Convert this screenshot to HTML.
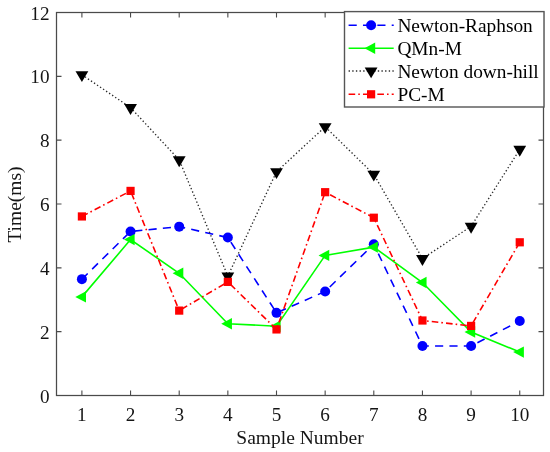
<!DOCTYPE html><html><head><meta charset="utf-8"><style>
html,body{margin:0;padding:0;background:#fff;width:550px;height:452px;overflow:hidden}
svg{display:block}
text{font-family:"Liberation Serif", "Times New Roman", serif;font-size:19.2px;fill:#151515}
</style></head><body>
<svg width="550" height="452" viewBox="0 0 550 452">
<rect width="550" height="452" fill="#fff"/>
<path d="M81.90 395.5V390.5M81.90 12.5V17.5M130.55 395.5V390.5M130.55 12.5V17.5M179.20 395.5V390.5M179.20 12.5V17.5M227.85 395.5V390.5M227.85 12.5V17.5M276.50 395.5V390.5M276.50 12.5V17.5M325.15 395.5V390.5M325.15 12.5V17.5M373.80 395.5V390.5M373.80 12.5V17.5M422.45 395.5V390.5M422.45 12.5V17.5M471.10 395.5V390.5M471.10 12.5V17.5M519.75 395.5V390.5M519.75 12.5V17.5M56.5 395.50H61.5M543.5 395.50H538.5M56.5 331.67H61.5M543.5 331.67H538.5M56.5 267.83H61.5M543.5 267.83H538.5M56.5 204.00H61.5M543.5 204.00H538.5M56.5 140.17H61.5M543.5 140.17H538.5M56.5 76.33H61.5M543.5 76.33H538.5M56.5 12.50H61.5M543.5 12.50H538.5" stroke="#4a4a4a" stroke-width="1.1" fill="none"/>
<rect x="56.5" y="12.5" width="487.0" height="383.0" stroke="#4a4a4a" stroke-width="1.25" fill="none"/>
<text x="49.5" y="402.50" text-anchor="end">0</text>
<text x="49.5" y="338.67" text-anchor="end">2</text>
<text x="49.5" y="274.83" text-anchor="end">4</text>
<text x="49.5" y="211.00" text-anchor="end">6</text>
<text x="49.5" y="147.17" text-anchor="end">8</text>
<text x="49.5" y="83.33" text-anchor="end">10</text>
<text x="49.5" y="19.50" text-anchor="end">12</text>
<text x="81.90" y="420.8" text-anchor="middle">1</text>
<text x="130.55" y="420.8" text-anchor="middle">2</text>
<text x="179.20" y="420.8" text-anchor="middle">3</text>
<text x="227.85" y="420.8" text-anchor="middle">4</text>
<text x="276.50" y="420.8" text-anchor="middle">5</text>
<text x="325.15" y="420.8" text-anchor="middle">6</text>
<text x="373.80" y="420.8" text-anchor="middle">7</text>
<text x="422.45" y="420.8" text-anchor="middle">8</text>
<text x="471.10" y="420.8" text-anchor="middle">9</text>
<text x="519.75" y="420.8" text-anchor="middle">10</text>
<text x="300" y="443.6" text-anchor="middle" style="font-size:19.5px">Sample Number</text>
<text transform="translate(20.6,204.5) rotate(-90)" text-anchor="middle" style="font-size:19.5px">Time(ms)</text>
<g clip-path="url(#clip)">
<polyline points="81.90,279.16 130.55,231.45 179.20,226.66 227.85,237.51 276.50,312.84 325.15,291.45 373.80,244.21 422.45,346.03 471.10,346.03 519.75,320.97" fill="none" stroke="#0000ff" stroke-width="1.6" stroke-dasharray="8.15,6.22"/>
<g fill="#0000ff"><circle cx="81.90" cy="279.16" r="5.0"/><circle cx="130.55" cy="231.45" r="5.0"/><circle cx="179.20" cy="226.66" r="5.0"/><circle cx="227.85" cy="237.51" r="5.0"/><circle cx="276.50" cy="312.84" r="5.0"/><circle cx="325.15" cy="291.45" r="5.0"/><circle cx="373.80" cy="244.21" r="5.0"/><circle cx="422.45" cy="346.03" r="5.0"/><circle cx="471.10" cy="346.03" r="5.0"/><circle cx="519.75" cy="320.97" r="5.0"/></g>
<polyline points="81.90,296.88 130.55,239.59 179.20,273.26 227.85,323.69 276.50,326.24 325.15,255.39 373.80,247.09 422.45,282.51 471.10,331.99 519.75,352.09" fill="none" stroke="#00ff00" stroke-width="1.6"/>
<g fill="#00ff00"><polygon points="75.30,296.88 86.00,291.18 86.00,302.58"/><polygon points="123.95,239.59 134.65,233.89 134.65,245.29"/><polygon points="172.60,273.26 183.30,267.56 183.30,278.96"/><polygon points="221.25,323.69 231.95,317.99 231.95,329.39"/><polygon points="269.90,326.24 280.60,320.54 280.60,331.94"/><polygon points="318.55,255.39 329.25,249.69 329.25,261.09"/><polygon points="367.20,247.09 377.90,241.39 377.90,252.79"/><polygon points="415.85,282.51 426.55,276.81 426.55,288.21"/><polygon points="464.50,331.99 475.20,326.29 475.20,337.69"/><polygon points="513.15,352.09 523.85,346.39 523.85,357.79"/></g>
<polyline points="81.90,74.74 130.55,107.61 179.20,159.95 227.85,276.13 276.50,171.76 325.15,126.76 373.80,174.32 422.45,258.58 471.10,226.34 519.75,149.42" fill="none" stroke="#2a2a2a" stroke-width="1.35" stroke-dasharray="1.35,2.3"/>
<g fill="#000"><polygon points="75.50,71.14 88.30,71.14 81.90,82.04"/><polygon points="124.15,104.01 136.95,104.01 130.55,114.91"/><polygon points="172.80,156.35 185.60,156.35 179.20,167.25"/><polygon points="221.45,272.53 234.25,272.53 227.85,283.43"/><polygon points="270.10,168.16 282.90,168.16 276.50,179.06"/><polygon points="318.75,123.16 331.55,123.16 325.15,134.06"/><polygon points="367.40,170.72 380.20,170.72 373.80,181.62"/><polygon points="416.05,254.98 428.85,254.98 422.45,265.88"/><polygon points="464.70,222.74 477.50,222.74 471.10,233.64"/><polygon points="513.35,145.82 526.15,145.82 519.75,156.72"/></g>
<polyline points="81.90,216.45 130.55,190.91 179.20,310.60 227.85,281.88 276.50,329.43 325.15,192.19 373.80,217.72 422.45,320.50 471.10,325.92 519.75,242.30" fill="none" stroke="#ff0000" stroke-width="1.6" stroke-dasharray="6.6,3.05,1.6,3.12"/>
<g fill="#ff0000"><rect x="77.80" y="212.35" width="8.2" height="8.2"/><rect x="126.45" y="186.81" width="8.2" height="8.2"/><rect x="175.10" y="306.50" width="8.2" height="8.2"/><rect x="223.75" y="277.78" width="8.2" height="8.2"/><rect x="272.40" y="325.33" width="8.2" height="8.2"/><rect x="321.05" y="188.09" width="8.2" height="8.2"/><rect x="369.70" y="213.62" width="8.2" height="8.2"/><rect x="418.35" y="316.40" width="8.2" height="8.2"/><rect x="467.00" y="321.82" width="8.2" height="8.2"/><rect x="515.65" y="238.20" width="8.2" height="8.2"/></g>
</g>
<defs><clipPath id="clip"><rect x="56.5" y="12.5" width="487.0" height="383.0"/></clipPath></defs>
<rect x="344.5" y="11.6" width="199.5" height="95.4" fill="#fff" stroke="#555555" stroke-width="1.4"/>
<line x1="348.6" y1="25.3" x2="393.7" y2="25.3" stroke="#0000ff" stroke-width="1.6" stroke-dasharray="8.15,6.22"/>
<g fill="#0000ff"><circle cx="371.10" cy="25.30" r="5.0"/></g>
<text x="397.4" y="32.30" style="fill:#000;font-size:19.35px">Newton-Raphson</text>
<line x1="348.6" y1="48.2" x2="393.7" y2="48.2" stroke="#00ff00" stroke-width="1.6"/>
<g fill="#00ff00"><polygon points="364.50,48.20 375.20,42.50 375.20,53.90"/></g>
<text x="397.4" y="55.20" style="fill:#000;font-size:19.35px">QMn-M</text>
<line x1="348.6" y1="71.0" x2="393.7" y2="71.0" stroke="#2a2a2a" stroke-width="1.35" stroke-dasharray="1.35,2.3"/>
<g fill="#000"><polygon points="364.70,67.40 377.50,67.40 371.10,78.30"/></g>
<text x="397.4" y="78.00" style="fill:#000;font-size:19.35px">Newton down-hill</text>
<line x1="348.6" y1="94.3" x2="393.7" y2="94.3" stroke="#ff0000" stroke-width="1.6" stroke-dasharray="6.6,3.05,1.6,3.12"/>
<g fill="#ff0000"><rect x="367.00" y="90.20" width="8.2" height="8.2"/></g>
<text x="397.4" y="101.30" style="fill:#000;font-size:19.35px">PC-M</text>
</svg></body></html>
